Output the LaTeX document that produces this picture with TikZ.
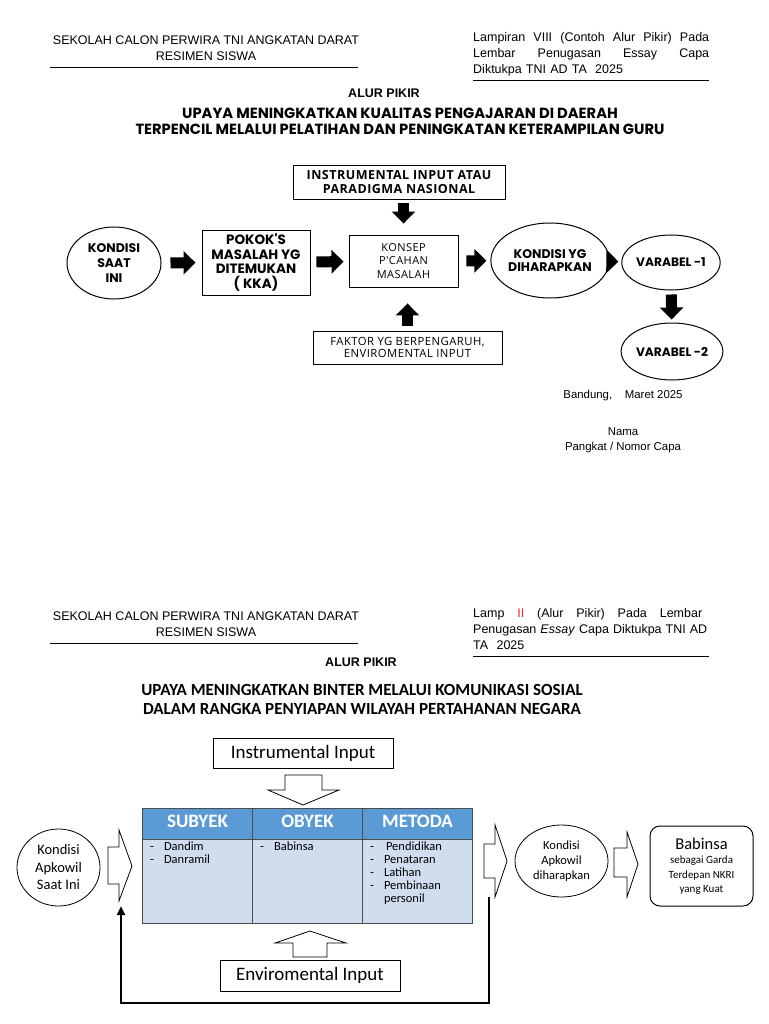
\documentclass[tikz,border=0pt]{standalone}
\usepackage{fontspec}
\setmainfont{Liberation Sans}
\newfontfamily\geofont{Poppins}
\newfontfamily\calfont{Carlito}
\newfontfamily\opfont[LetterSpace=4]{Open Sans}
\usetikzlibrary{shapes.geometric,arrows.meta}
\definecolor{hdrblue}{HTML}{5B9BD5}
\definecolor{cellblue}{HTML}{D0DDEF}
\definecolor{lampred}{HTML}{E8282B}
\newcommand\spreadline[2]{\makebox[#1][s]{\spaceskip=0.28em plus 1fil\relax #2}}
\tikzset{
  box/.style={draw, line width=0.9pt, align=center, inner sep=0pt},
  oval/.style={draw, ellipse, line width=1pt, align=center, inner sep=0pt},
  blk/.style={line width=11pt, -{Triangle[length=12pt,width=23pt]}},
  hollow/.style={draw, line width=0.8pt, fill=white, line join=miter},
  hcell/.style={draw=black!70, line width=1pt, anchor=north west, fill=hdrblue, minimum width=110pt, minimum height=31pt, text depth=6pt, text=white, font=\calfont\bfseries\fontsize{19}{22}\selectfont},
  bcell/.style={draw=black!70, line width=1pt, anchor=north west, fill=cellblue, minimum width=110pt, minimum height=84pt},
  items/.style={anchor=north west, inner sep=0pt, align=left, font=\calfont\fontsize{12.5}{13}\selectfont},
  fb/.style={line width=2.5pt, -{Triangle[length=9pt,width=8pt]}},
}
\begin{document}
\begin{tikzpicture}[x=1pt,y=-1pt]
\useasboundingbox[fill=white] (0,0) rectangle (768,1024);

% ---------- first sheet ----------
\node[align=center, font=\fontsize{12.5}{16}\selectfont] (school1) at (206,48) {SEKOLAH CALON PERWIRA TNI ANGKATAN DARAT\\RESIMEN SISWA};
\draw[line width=0.8pt] (50,67) -- (358,67);
\node[anchor=north west, inner sep=0pt, text width=236pt, align=left, font=\fontsize{12.5}{16}\selectfont] (lamp1) at (473,32)
  {\spreadline{236pt}{Lampiran VIII (Contoh Alur Pikir) Pada}\\\spreadline{236pt}{Lembar Penugasan Essay Capa}\\Diktukpa TNI AD TA\ \ 2025};
\draw[line width=0.8pt] (473,80) -- (709,80);
\node[font=\bfseries\fontsize{12.5}{15}\selectfont] (alur1) at (384,93) {ALUR PIKIR};
\node[align=center, font=\geofont\bfseries\fontsize{14.7}{16}\selectfont] (title1) at (400,121)
  {UPAYA MENINGKATKAN KUALITAS PENGAJARAN DI DAERAH\\TERPENCIL MELALUI PELATIHAN DAN PENINGKATAN KETERAMPILAN GURU};

% boxes and ovals
\node[box, minimum width=212pt, minimum height=34pt, font=\opfont\bfseries\fontsize{12.5}{14}\selectfont] (instr) at (399,182) {INSTRUMENTAL INPUT ATAU\\PARADIGMA NASIONAL};
\node[oval, minimum width=94pt, minimum height=72pt, font=\geofont\bfseries\fontsize{12.5}{15}\selectfont] (kini) at (114,263) {KONDISI\\SAAT\\INI};
\node[box, minimum width=108pt, minimum height=65pt, font=\geofont\bfseries\fontsize{13.5}{14.5}\selectfont] (pokok) at (256,262.5) {POKOK'S\\MASALAH YG\\DITEMUKAN\\( KKA)};
\node[box, minimum width=109pt, minimum height=52pt, font=\opfont\fontsize{11}{13.5}\selectfont] (konsep) at (403.5,261) {KONSEP\\P'CAHAN\\MASALAH};
\node[oval, minimum width=106pt, minimum height=75pt, font=\geofont\bfseries\fontsize{12.5}{13}\selectfont] (harap) at (550,260.5) {KONDISI YG\\DIHARAPKAN};
\node[oval, minimum width=77pt, minimum height=55pt, font=\geofont\bfseries\fontsize{12.2}{13}\selectfont] (var1) at (671,262.5) {VARABEL -1};
\node[oval, minimum width=76pt, minimum height=57pt, font=\geofont\bfseries\fontsize{12.2}{13}\selectfont] (var2) at (672,351.5) {VARABEL -2};
\node[box, minimum width=189pt, minimum height=33pt, font=\opfont\fontsize{11.3}{12.5}\selectfont] (faktor) at (407.5,347.5) {FAKTOR YG BERPENGARUH,\\ENVIROMENTAL INPUT};

% black arrows
\draw[blk, shorten <=9pt, shorten >=6pt] (kini) -- (pokok);
\draw[blk, shorten <=6pt, shorten >=5pt] (pokok) -- (konsep);
\draw[blk, shorten <=8pt, shorten >=4pt] (konsep) -- (harap);
\draw[blk, shorten <=0pt, shorten >=3pt] (harap) -- (var1);
\draw[blk, shorten <=4pt, shorten >=3pt] (var1) -- (var2);
\draw[blk, shorten <=4pt, shorten >=11pt] (konsep.north |- instr.south) -- (konsep.north);
\draw[blk, shorten <=5pt, shorten >=16pt] (faktor.north) -- (faktor.north |- konsep.south);

\node[font=\fontsize{11.4}{14}\selectfont] (tempat) at (623,396) {Bandung,\ \ \ \ Maret 2025};
\node[align=center, font=\fontsize{11.4}{15}\selectfont] (nama) at (623,440) {Nama\\Pangkat / Nomor Capa};

% ---------- second sheet ----------
\node[align=center, font=\fontsize{12.5}{16}\selectfont] (school2) at (206,624) {SEKOLAH CALON PERWIRA TNI ANGKATAN DARAT\\RESIMEN SISWA};
\draw[line width=0.8pt] (50,643) -- (358,643);
\node[anchor=north west, inner sep=0pt, text width=236pt, align=left, font=\fontsize{12.5}{16}\selectfont] (lamp2) at (473,608)
  {\spreadline{229pt}{Lamp \textcolor{lampred}{II} (Alur Pikir) Pada Lembar}\\\spreadline{234pt}{Penugasan \textit{Essay} Capa Diktukpa TNI AD}\\TA\ \ 2025};
\draw[line width=0.8pt] (473,656) -- (709,656);
\node[font=\bfseries\fontsize{12.5}{15}\selectfont] (alur2) at (361,662) {ALUR PIKIR};
\node[align=center, font=\calfont\bfseries\fontsize{17}{19}\selectfont] (title2) at (362,699.5)
  {UPAYA MENINGKATKAN BINTER MELALUI KOMUNIKASI SOSIAL\\DALAM RANGKA PENYIAPAN WILAYAH PERTAHANAN NEGARA};

\node[box, minimum width=180pt, minimum height=30pt, font=\calfont\fontsize{19}{22}\selectfont] (instr2) at (303,753) {Instrumental Input};
\node[box, minimum width=180pt, minimum height=31pt, font=\calfont\fontsize{19}{22}\selectfont] (env) at (310,975.5) {Enviromental Input};

% table
\node[hcell] (subyek) at (142,808) {SUBYEK};
\node[hcell] (obyek) at (252,808) {OBYEK};
\node[hcell] (metoda) at (362,808) {METODA};
\node[bcell] (bsub) at (142,839) {};
\node[bcell] (bob) at (252,839) {};
\node[bcell] (bmet) at (362,839) {};
\node[items] (lsub) at (150,842) {-\hspace{10pt}Dandim\\-\hspace{10pt}Danramil};
\node[items] (lob) at (260,842) {-\hspace{10pt}Babinsa};
\node[items] (lmet) at (370,842) {-\hspace{12pt}Pendidikan\\-\hspace{10pt}Penataran\\-\hspace{10pt}Latihan\\-\hspace{10pt}Pembinaan\\\hphantom{-}\hspace{10pt}personil};

\node[oval, line width=0.8pt, minimum width=83pt, minimum height=77pt, font=\calfont\fontsize{14.5}{17.5}\selectfont] (apk1) at (58.5,867.5) {Kondisi\\Apkowil\\Saat Ini};
\node[oval, line width=0.8pt, minimum width=93pt, minimum height=72pt, font=\calfont\fontsize{12.5}{15}\selectfont] (apk2) at (561.5,861) {Kondisi\\Apkowil\\diharapkan};
\node[box, rounded corners=10pt, line width=1pt, minimum width=103pt, minimum height=80pt, font=\calfont\fontsize{11}{14.5}\selectfont] (garda) at (701.5,866)
  {{\fontsize{16.5}{18}\selectfont Babinsa}\\sebagai Garda\\Terdepan NKRI\\yang Kuat};

% hollow arrows
\draw[hollow] (285,775) -- (322,775) -- (322,790) -- (339,790) -- (303,805) -- (268,790) -- (285,790) -- cycle;
\draw[hollow] (293,957) -- (327,957) -- (327,943) -- (346,943) -- (310,931) -- (275,943) -- (293,943) -- cycle;
\draw[hollow] (108,847) -- (119,847) -- (119,830) -- (132,866) -- (119,901) -- (119,884) -- (108,884) -- cycle;
\draw[hollow] (484,844) -- (495,844) -- (495,825) -- (507,861) -- (495,897) -- (495,878) -- (484,878) -- cycle;
\draw[hollow] (614,848) -- (627,848) -- (627,832) -- (638,864) -- (627,897) -- (627,877) -- (614,877) -- cycle;

% feedback line
\coordinate (fbtop) at (489,897);
\coordinate (fbend) at (121,906);
\draw[fb] (fbtop) -- (489,1003) -| (fbend);
\end{tikzpicture}
\end{document}
